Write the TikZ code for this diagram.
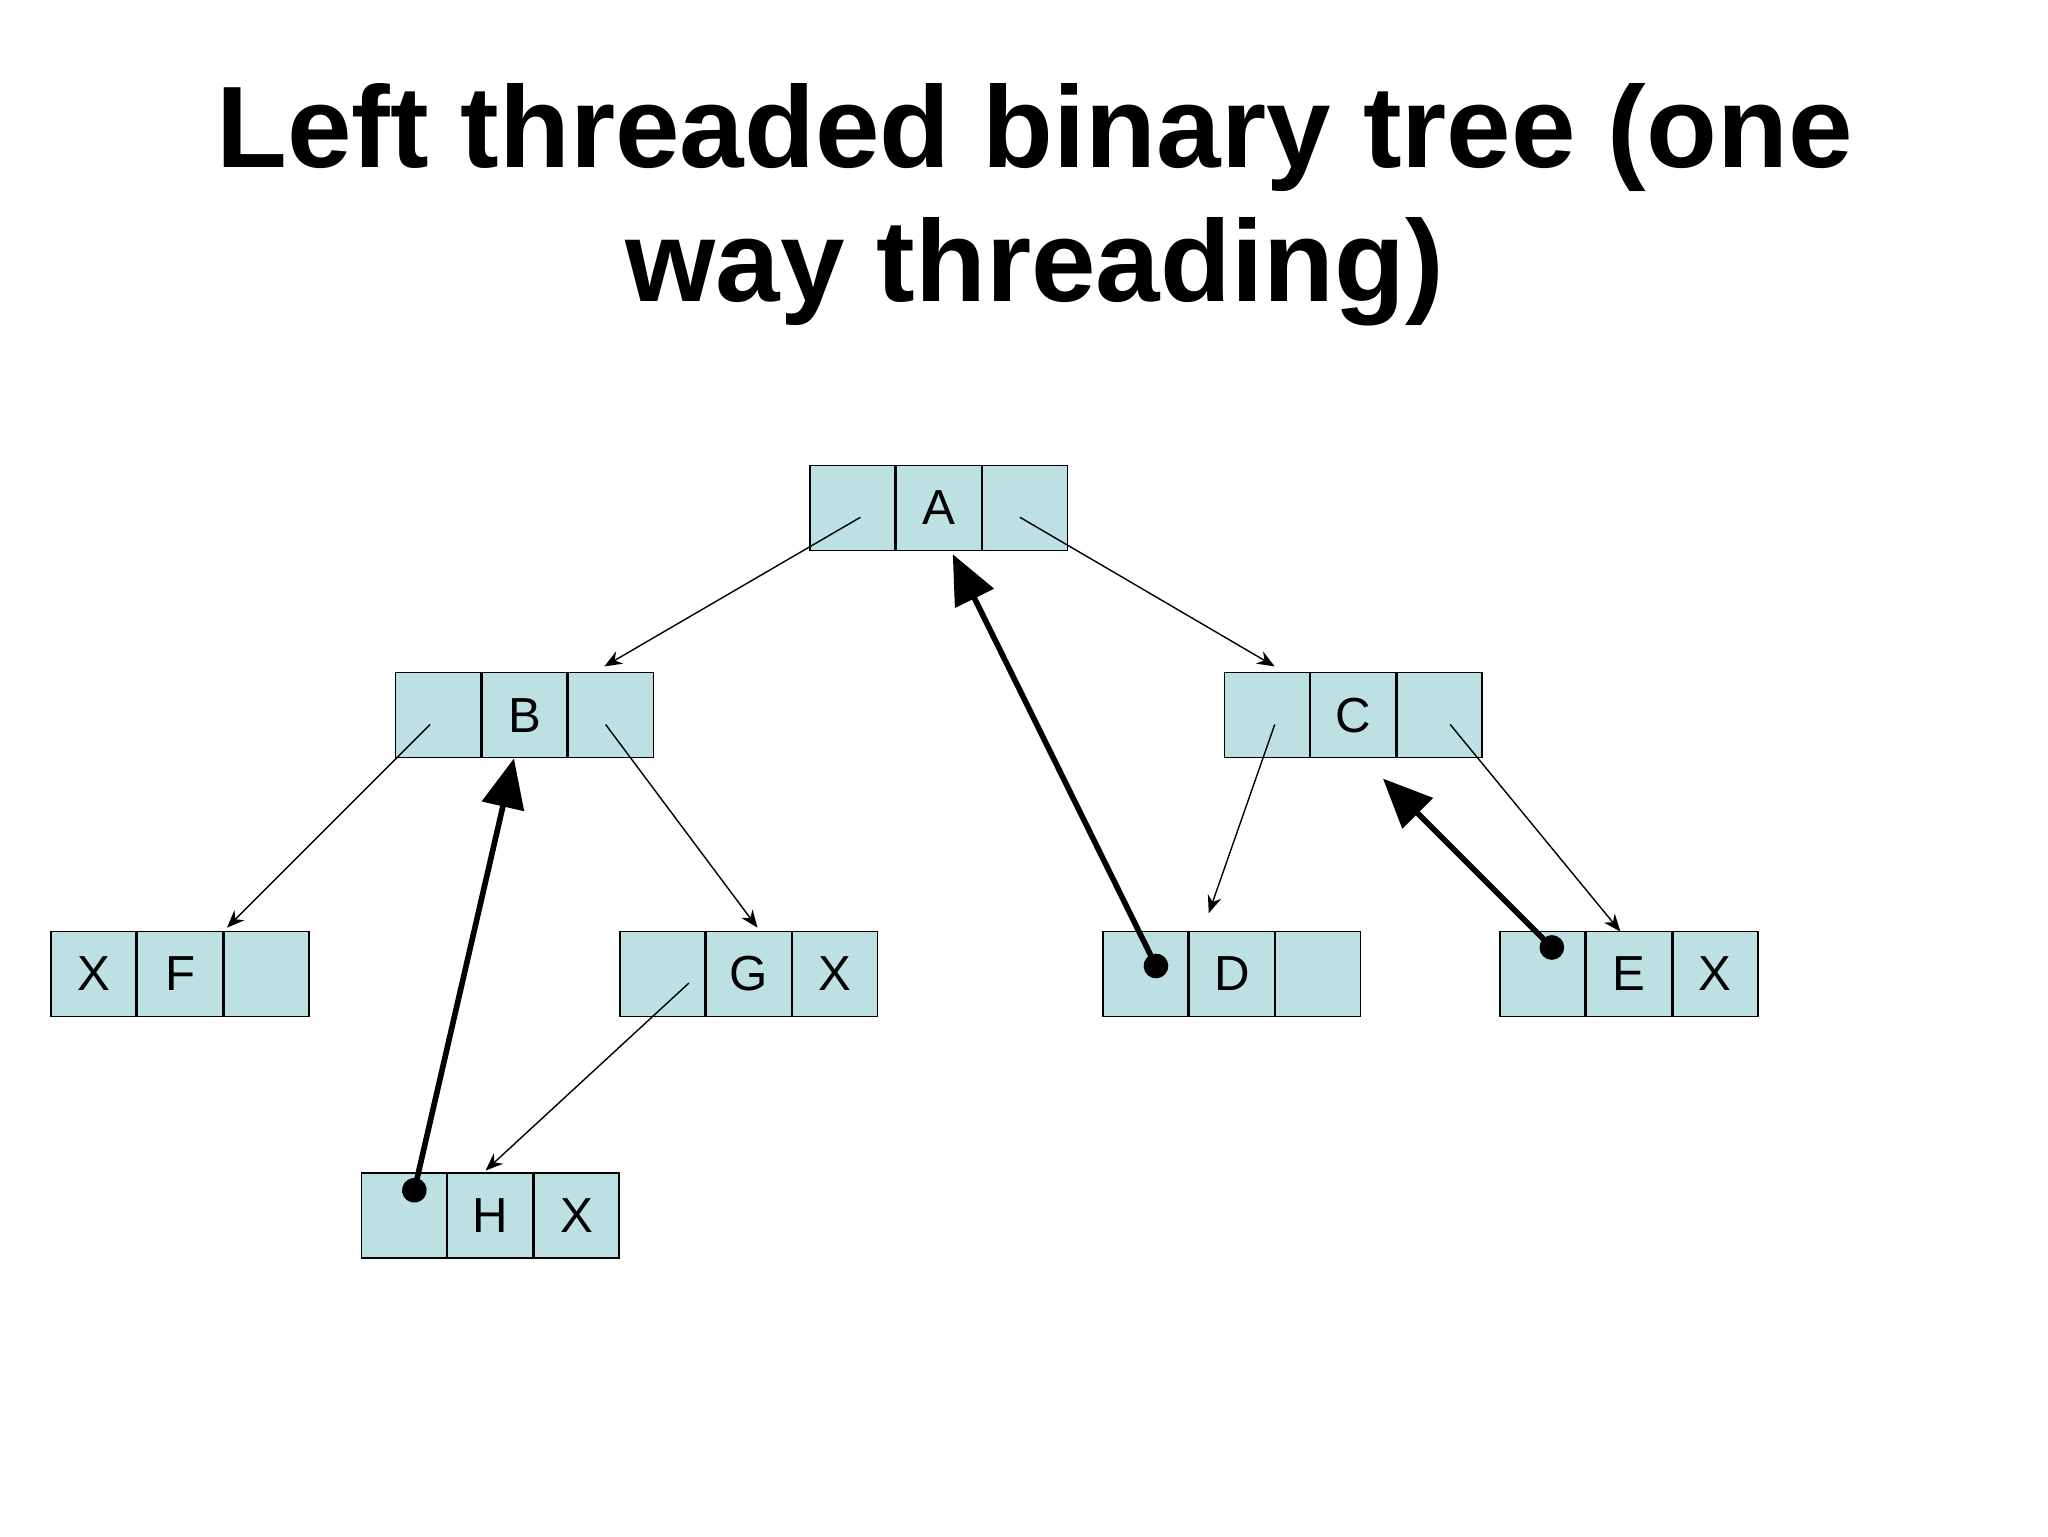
\documentclass[tikz,border=0pt]{standalone}
\usepackage{fontspec}
\setmainfont{Liberation Sans}
\usetikzlibrary{positioning,arrows.meta}
\definecolor{cellblue}{HTML}{BDE0E3}
\tikzset{
  cell/.style={draw, fill=cellblue, minimum width=0.85cm, minimum height=0.85cm, inner sep=0pt, font=\fontsize{14}{16}\selectfont},
  link/.style={-{Stealth[length=5pt,width=4pt]}, thin},
  thread/.style={{Circle[length=7pt]}-{Triangle[length=14pt,width=12pt]}, line width=1.6pt, shorten <=-3.5pt}
}
% three-cell record: name, x, y, left, middle, right
\newcommand\Record[6]{
  \node[cell] (#1l) at (#2,#3) {#4};
  \node[cell, right=0pt of #1l] (#1m) {#5};
  \node[cell, right=0pt of #1m] (#1r) {#6};
}
\begin{document}
\begin{tikzpicture}[x=0.0132cm,y=-0.0132cm]
	\useasboundingbox (0,0) rectangle (1552,1164);
	\node[font=\fontsize{33}{38}\selectfont\bfseries, align=center] (title) at (784,155) {Left threaded binary tree (one\\way threading)};

	\Record{a}{646}{385}{}{A}{}
	\Record{b}{332}{542}{}{B}{}
	\Record{c}{960}{542}{}{C}{}
	\Record{f}{71}{738}{X}{F}{}
	\Record{g}{502}{738}{}{G}{X}
	\Record{d}{868}{738}{}{D}{}
	\Record{e}{1169}{738}{}{E}{X}
	\Record{h}{306}{921}{}{H}{X}

	% child links
	\draw[link] ([shift={(6,7)}]al.center) -- (458,505);
	\draw[link] ([shift={(-4,7)}]ar.center) -- (966,505);
	\draw[link] ([shift={(-6,7)}]bl.center) -- (172,703);
	\draw[link] ([shift={(-4,7)}]br.center) -- (574,703);
	\draw[link] ([shift={(6,7)}]cl.center) -- (916,692);
	\draw[link] ([shift={(8,7)}]cr.center) -- (1228,706);
	\draw[link] ([shift={(20,7)}]gl.center) -- (368,887);

	% threads
	\coordinate (hdot) at (314,902);
	\coordinate (ddot) at (876,732);
	\coordinate (edot) at (1176,718);
	\draw[thread] (hdot) -- ([xshift=-3pt]bm.south);
	\draw[thread] (ddot) -- (722,420);
	\draw[thread] (edot) -- (1048,590);
\end{tikzpicture}
\end{document}
